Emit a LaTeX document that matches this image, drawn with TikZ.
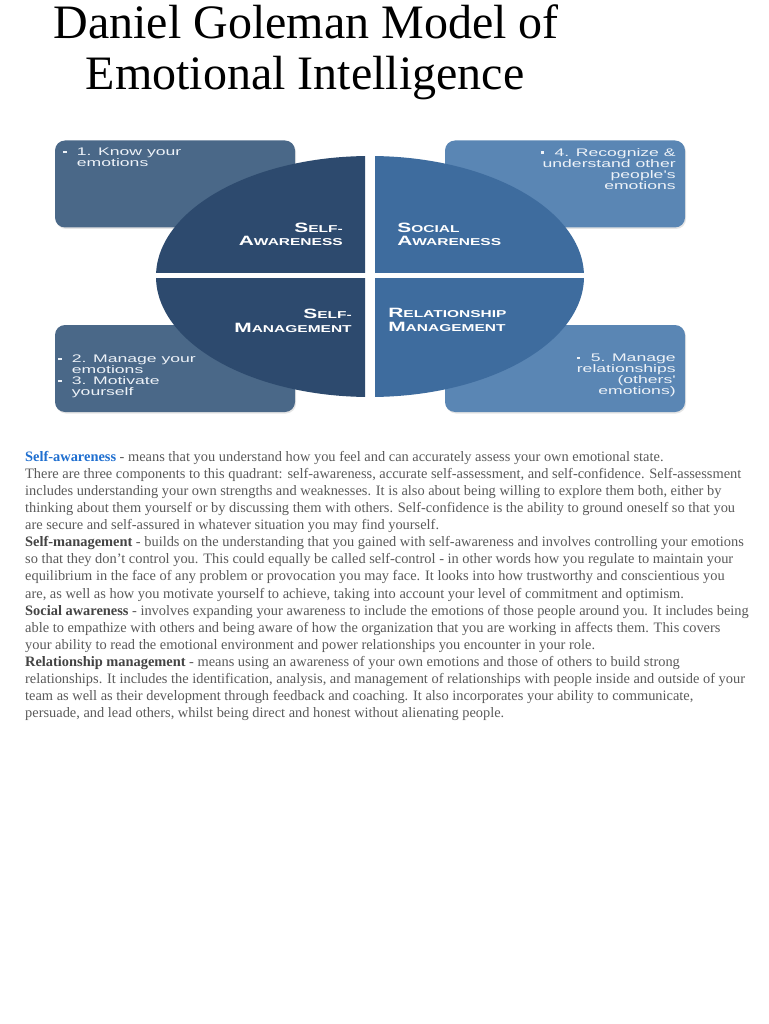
\documentclass[tikz,border=0pt]{standalone}
\usepackage{fontspec}
\setmainfont{Liberation Serif}
\newfontfamily\arialfont{Liberation Sans}
\usepackage{xcolor}
\definecolor{boxDark}{HTML}{4A6888}
\definecolor{boxLight}{HTML}{5A86B4}
\definecolor{quadDark}{HTML}{2D4A6E}
\definecolor{quadLight}{HTML}{3E6C9E}
\definecolor{bodyGray}{HTML}{5A5A5A}
\definecolor{headGray}{HTML}{444444}
\definecolor{headBlue}{HTML}{1F6FD0}
\definecolor{boxText}{HTML}{EDF2F8}
\usetikzlibrary{shadows}

\newcommand{\bul}{\makebox[8.5pt][l]{\rule[2.4pt]{2pt}{2.3pt}}}
\newcommand{\fsc}[2]{{\fontsize{13.5}{12}\selectfont #1}{\fontsize{10}{12}\selectfont #2}}

\begin{document}
\begin{tikzpicture}[
		x=1pt, y=-1pt,
		infobox/.style={rounded corners=10pt, minimum width=240pt, minimum height=87pt,
			drop shadow={opacity=0.2, shadow xshift=1pt, shadow yshift=-1.5pt}},
		boxtext/.style={inner sep=0pt, xscale=1.6, text=boxText,
			font=\arialfont\fontsize{11}{11}\selectfont},
		quadlabel/.style={inner sep=0pt, xscale=1.55, text=white,
			font=\arialfont\bfseries\fontsize{13.5}{12}\selectfont},
		bodyline/.style={anchor=base west, inner sep=0pt, text=bodyGray,
			font=\fontsize{14.4}{17}\selectfont},
		titleline/.style={anchor=base, inner sep=0pt, font=\fontsize{48}{52}\selectfont}
	]
	\fill[white] (0,0) rectangle (768,1024);
	\useasboundingbox (0,0) rectangle (768,1024);

	% title
	\node[titleline] (titleTop) at (306,39) {Daniel Goleman Model of};
	\node[titleline] (titleBottom) at (305,90) {Emotional Intelligence};

	% corner boxes
	\node[infobox, fill=boxDark] (knowBox) at (175,184) {};
	\node[infobox, fill=boxLight] (recogBox) at (565,184) {};
	\node[infobox, fill=boxDark] (manageBox) at (175,368.5) {};
	\node[infobox, fill=boxLight] (relBox) at (565,368.5) {};

	% quadrants of the oval
	\begin{scope}
		\clip (140,140) rectangle (365,272.5);
		\fill[quadDark] (370,276.5) ellipse [x radius=214pt, y radius=120.5pt];
	\end{scope}
	\begin{scope}
		\clip (375,140) rectangle (600,272.5);
		\fill[quadLight] (370,276.5) ellipse [x radius=214pt, y radius=120.5pt];
	\end{scope}
	\begin{scope}
		\clip (140,278.5) rectangle (365,410);
		\fill[quadDark] (370,276.5) ellipse [x radius=214pt, y radius=120.5pt];
	\end{scope}
	\begin{scope}
		\clip (375,278.5) rectangle (600,410);
		\fill[quadLight] (370,276.5) ellipse [x radius=214pt, y radius=120.5pt];
	\end{scope}

	% quadrant labels
	\node[quadlabel, anchor=north east, align=right] (saLabel) at (343,223)
		{\fsc{S}{ELF-}\\[1pt]\fsc{A}{WARENESS}};
	\node[quadlabel, anchor=north west, align=left] (soLabel) at (397,223)
		{\fsc{S}{OCIAL}\\[1pt]\fsc{A}{WARENESS}};
	\node[quadlabel, anchor=north east, align=right] (smLabel) at (352,308.5)
		{\fsc{S}{ELF-}\\[2pt]\fsc{M}{ANAGEMENT}};
	\node[quadlabel, anchor=north west, align=left] (rmLabel) at (388,308.5)
		{\fsc{R}{ELATIONSHIP}\\[2pt]\fsc{M}{ANAGEMENT}};

	% texts of the boxes
	\node[boxtext, anchor=north west, align=left] (knowText) at (63,148)
		{\bul 1. Know your\\\hspace*{8.5pt}emotions};
	\node[boxtext, anchor=north east, align=right] (recogText) at (676,148)
		{\bul 4. Recognize \&\\understand other\\people's\\emotions};
	\node[boxtext, anchor=north west, align=left] (manageText) at (58,355)
		{\bul 2. Manage your\\\hspace*{8.5pt}emotions\\\bul 3. Motivate\\\hspace*{8.5pt}yourself};
	\node[boxtext, anchor=north east, align=right] (relText) at (676,354)
		{\bul 5. Manage\\relationships\\(others'\\emotions)};

	% explanation below
	\foreach \txt [count=\i] in {
		{\textbf{\color{headBlue}Self-awareness} - means that you understand how you feel and can accurately assess your own emotional state.},
		{There are three components to this quadrant: self-awareness, accurate self-assessment, and self-confidence. Self-assessment},
		{includes understanding your own strengths and weaknesses. It is also about being willing to explore them both, either by},
		{thinking about them yourself or by discussing them with others. Self-confidence is the ability to ground oneself so that you},
		{are secure and self-assured in whatever situation you may find yourself.},
		{\textbf{\color{headGray}Self-management} - builds on the understanding that you gained with self-awareness and involves controlling your emotions},
		{so that they don't control you. This could equally be called self-control - in other words how you regulate to maintain your},
		{equilibrium in the face of any problem or provocation you may face. It looks into how trustworthy and conscientious you},
		{are, as well as how you motivate yourself to achieve, taking into account your level of commitment and optimism.},
		{\textbf{\color{headGray}Social awareness} - involves expanding your awareness to include the emotions of those people around you. It includes being},
		{able to empathize with others and being aware of how the organization that you are working in affects them. This covers},
		{your ability to read the emotional environment and power relationships you encounter in your role.},
		{\textbf{\color{headGray}Relationship management} - means using an awareness of your own emotions and those of others to build strong},
		{relationships. It includes the identification, analysis, and management of relationships with people inside and outside of your},
		{team as well as their development through feedback and coaching. It also incorporates your ability to communicate,},
		{persuade, and lead others, whilst being direct and honest without alienating people.}}
		\node[bodyline] (line\i) at (25,{461+17.13*(\i-1)}) {\txt};
\end{tikzpicture}
\end{document}
